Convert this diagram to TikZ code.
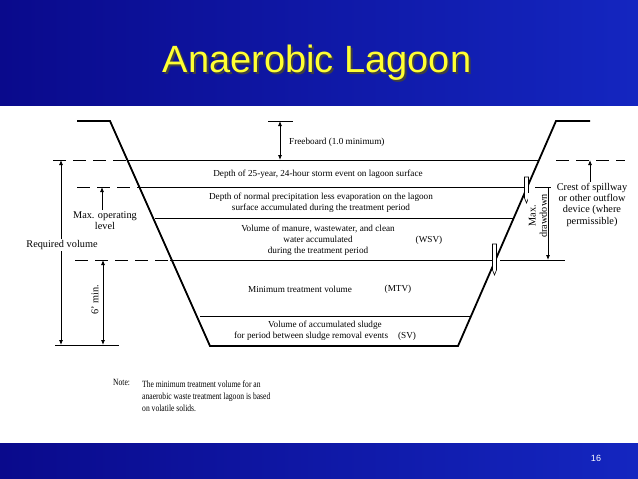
\documentclass[tikz,border=0pt]{standalone}
\usepackage{fontspec}
\setmainfont{Liberation Serif}
\newfontfamily\titlefont{Liberation Sans}
\usetikzlibrary{arrows.meta}
\definecolor{bannerA}{HTML}{0A0A8C}
\definecolor{bannerB}{HTML}{1426C0}
\definecolor{titleyellow}{HTML}{FFFF33}
\begin{document}
\begin{tikzpicture}[x=1pt,y=-1pt,
  lbl/.style={font=\fontsize{9.2}{10.8}\selectfont,align=center,inner sep=1pt},
  side/.style={font=\fontsize{10.3}{11.2}\selectfont,align=center,inner sep=1pt},
  notef/.style={font=\fontsize{9.5}{11.8}\selectfont,inner sep=1pt},
  thin/.style={line width=0.6pt},
  bank/.style={line width=1.8pt},
  dsh/.style={line width=0.7pt,dash pattern=on 13pt off 7pt},
  dim/.style={line width=0.8pt,{Latex[length=5pt,width=4pt]}-{Latex[length=5pt,width=4pt]}},
  up/.style={line width=0.8pt,-{Latex[length=5pt,width=4pt]}}]
\useasboundingbox (0,0) rectangle (638,479);
\fill[white] (0,0) rectangle (638,479);
\shade[left color=bannerA,right color=bannerB] (0,0) rectangle (638,105);
\shade[left color=bannerA,right color=bannerB] (0,443) rectangle (638,479);
\node (title) [font=\titlefont\fontsize{38}{40}\selectfont,text=titleyellow] at (317,64)
  {\makebox[0pt][l]{\raisebox{-2pt}{\hspace{2pt}\textcolor{black!75}{Anaerobic Lagoon}}}Anaerobic Lagoon};
\node (pg) [font=\titlefont\fontsize{9}{10}\selectfont,text=white] at (596,458) {16};
% lagoon
\draw[bank] (77,121) -- (110,121) -- (210,346) -- (458,346) -- (556,121) -- (590,121);
% levels
\draw[thin] (127,160) -- (539,160);
\draw[dsh] (53,160) -- (140,160);
\draw[dsh] (556,160) -- (625,160);
\draw[thin] (140,187) -- (527,187);
\draw[dsh] (77,187) -- (140,187);
\draw[thin] (155,218) -- (513,218);
\draw[thin] (170,260) -- (495,260);
\draw[dsh] (75,260) -- (170,260);
\draw[thin] (500,260) -- (565,260);
\draw[thin] (200,316) -- (470,316);
\draw[thin] (55,345) -- (119,345);
\draw[thin] (535,187) -- (551,187);
% freeboard
\draw[thin] (268,121) -- (293,121);
\coordinate (fbT) at (280,121); \coordinate (fbB) at (280,160);
\draw[dim] (fbT) -- (fbB);
\node (fb) [lbl,anchor=west] at (288,142) {Freeboard (1.0 minimum)};
% required volume
\coordinate (rvT) at (61,160); \coordinate (rvB) at (61,345);
\draw[dim] (rvT) -- (rvB);
\node (rv) [side,fill=white] at (62,245) {Required volume};
% max operating
\coordinate (moB) at (102,210); \coordinate (moT) at (102,187);
\draw[up] (moB) -- (moT);
\node (mo) [side,anchor=north] at (105,210) {Max. operating\\level};
% 6 min
\coordinate (smT) at (103,260); \coordinate (smB) at (103,345);
\draw[dim] (smT) -- (smB);
\node (sm) [side,rotate=90] at (95,300) {6' min.};
% texts
\node (t1) [lbl] at (318,174) {Depth of 25-year, 24-hour storm event on lagoon surface};
\node (t2) [lbl] at (321,203) {Depth of normal precipitation less evaporation on the lagoon\\surface accumulated during the treatment period};
\node (t3) [lbl] at (318,240) {Volume of manure, wastewater, and clean\\water accumulated\\during the treatment period};
\node (t3b) [lbl] at (429,240) {(WSV)};
\node (t4) [lbl] at (300,289) {Minimum treatment volume};
\node (t4b) [lbl] at (398,289) {(MTV)};
\node (t5) [lbl] at (325,331) {Volume of accumulated sludge\\for period between sludge removal events\hspace{10pt}(SV)};
% gauges
\draw[thin,fill=white] (524.5,177) -- (528.5,177) -- (528.5,198) -- (526.5,203) -- (524.5,198) -- cycle;
\draw[thin,fill=white] (492.5,244) -- (496.5,244) -- (496.5,270) -- (494.5,275) -- (492.5,270) -- cycle;
% max drawdown
\coordinate (mdT) at (548,187); \coordinate (mdB) at (548,260);
\draw[line width=0.8pt,-{Latex[length=5pt,width=4pt]}] (mdT) -- (mdB);
\node (md) [side,rotate=90,fill=white] at (538,216) {Max.\\drawdown};
% crest
\coordinate (crB) at (590,186); \coordinate (crT) at (590,160);
\draw[up] (crB) -- (crT);
\node (cr) [side,anchor=north,fill=white] at (592,182) {Crest of spillway\\or other outflow\\device (where\\permissible)};
% note
\node (nt) [notef,anchor=north west] at (112,378) {\scalebox{0.8}[1]{Note:}};
\node (nb) [notef,anchor=north west,align=left] at (141,378) {\scalebox{0.8}[1]{\begin{tabular}{@{}l@{}}The minimum treatment volume for an\\anaerobic waste treatment lagoon is based\\on volatile solids.\end{tabular}}};
\end{tikzpicture}
\end{document}
